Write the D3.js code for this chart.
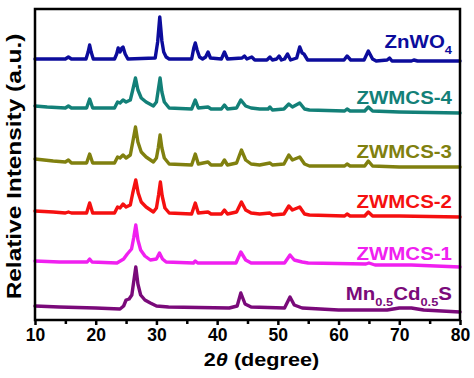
<!DOCTYPE html>
<html><head><meta charset="utf-8">
<script src="https://cdn.jsdelivr.net/npm/d3@7/dist/d3.min.js"></script>
<style>body{margin:0;background:#fff}svg{display:block}text{font-family:Arial,"Liberation Sans",sans-serif;font-weight:bold}</style>
</head><body>
<svg id="c" width="474" height="378"></svg>
<script>
// Data: [2theta, stacked intensity (a.u.)]
const ZnWO4 = [[10,261],[15,261],[15.5,263],[16,261],[18.4,261],[18.75,268],[19,275],[19.25,268],[19.6,261],[23.1,261],[23.45,266],[23.7,272],[24.0,268],[24.3,272],[24.5,273],[24.85,266],[25.3,261],[29.8,262],[30.2,278],[30.55,303],[30.9,279],[31.2,268],[31.6,263],[32.1,261],[35.8,261],[36.15,272],[36.4,277],[36.7,270],[37.1,263],[37.6,261],[38.1,263],[38.5,268],[38.9,262],[40.7,261],[41.2,268],[41.7,261],[44.1,262],[44.5,264],[44.9,261],[45.7,263],[46.2,260],[48.2,260],[48.7,263],[49.1,260],[49.8,261],[50.2,264],[50.6,260],[51.1,261],[51.6,266],[52.1,260],[53.1,262],[53.6,273],[54.0,267],[54.3,266],[54.9,260],[60.9,260],[61.4,264],[62.0,260],[64.2,260],[64.9,269],[65.6,261],[66.2,259],[68,260],[68.4,262],[68.8,259],[72,259],[72.4,260],[73,259],[80,259]];
const ZWMCS4 = [[10,214],[12,213],[15,212],[15.5,214],[16,212],[18.5,212],[19,221],[19.5,212],[23.1,212],[23.6,218],[24.0,217],[24.5,220],[25,218],[25.7,220],[26.1,230],[26.55,242],[26.95,230],[27.5,222],[28.3,218],[29.5,214],[30.0,218],[30.3,230],[30.6,242],[30.9,228],[31.3,218],[32.1,212],[35.8,211],[36.4,220],[36.9,212],[38.5,213],[39,211],[40.7,211],[41.2,215],[41.7,211],[43.2,212],[43.9,220],[44.7,214],[45.6,212],[47,211],[48.4,211],[48.7,213],[49.1,210],[51,211],[51.8,216],[52.4,213],[53.6,217],[54.4,211],[55.2,210],[61,209],[61.4,211],[61.9,209],[64.3,209],[64.9,213],[65.6,209],[70,208],[80,207]];
const ZWMCS3 = [[10,161],[13,159],[15,158],[15.5,160],[16,157],[18.5,157],[19,166],[19.5,157],[23.1,157],[23.6,163],[24.0,162],[24.5,165],[25,162],[25.7,165],[26.1,178],[26.55,193],[26.95,178],[27.5,168],[28.3,163],[29.5,158],[30.0,162],[30.3,172],[30.6,185],[30.9,172],[31.3,162],[32.1,156],[35.8,155],[36.4,166],[36.9,156],[38.5,158],[39,155],[40.7,155],[41.2,160],[41.7,155],[43.2,157],[44,170],[44.7,160],[45.6,156],[47,155],[48.7,157],[49.1,155],[51,156],[51.8,165],[52.4,160],[53.6,163],[54.4,156],[55.2,154],[61,154],[61.4,156],[61.9,154],[64.3,154],[64.9,159],[65.6,154],[70,153],[80,153]];
const ZWMCS2 = [[10,109],[13,108],[15,107],[15.5,108],[16,107],[18.5,107],[19,117],[19.5,107],[23.1,107],[23.6,113],[24.0,112],[24.5,116],[25,113],[25.7,115],[26.1,127],[26.6,140],[27.0,127],[27.5,118],[28.3,113],[29.5,108],[30.0,112],[30.35,125],[30.65,138],[30.95,124],[31.4,112],[32.1,107],[35.8,106],[36.4,117],[36.9,107],[38.5,108],[39,106],[40.7,106],[41.2,110],[41.7,106],[43.2,108],[44,118],[44.7,110],[45.6,107],[47,106],[48.7,107],[49.1,105],[51,106],[51.8,114],[52.4,110],[53.6,113],[54.4,106],[55.2,105],[61,104],[61.4,106],[61.9,104],[64.3,104],[64.9,108],[65.6,104],[70,104],[80,103]];
const ZWMCS1 = [[10,59],[14,58],[18.6,58],[19,61],[19.4,58],[23.5,57],[24.6,61],[25.2,66],[25.9,71],[26.25,82],[26.6,95],[26.95,80],[27.4,70],[28.1,64],[29,60],[30.0,61],[30.5,67],[31.0,61],[31.6,58],[36.1,57],[36.4,59],[36.8,57],[43.1,57],[43.9,68],[44.7,60],[45.6,57],[51.1,57],[52,65],[52.7,60],[54,58],[55,57],[64.5,56],[65,57],[66,55],[70,55],[72,55],[80,53]];
const MnCdS = [[10,14],[14,13],[20,12],[24,11],[24.6,14],[25,20],[25.5,21],[25.95,25],[26.25,38],[26.6,53],[26.95,36],[27.4,25],[28.1,20],[29,17],[30,14],[32,13],[42,12],[43.3,14],[43.9,27],[44.6,16],[45.6,13],[51.1,12],[52,23],[52.7,15],[54,12],[60,10],[68,10],[70,12],[72,12],[74,10],[80,8]];

const seriesData = [ZnWO4, ZWMCS4, ZWMCS3, ZWMCS2, ZWMCS1, MnCdS];
const seriesColors = ["#0c0c9c", "#138078", "#80800f", "#f51010", "#f020f0", "#7a0a7a"];
const seriesLabels = [
  [["ZnWO",0],["4",1]],
  [["ZWMCS-4",0]],
  [["ZWMCS-3",0]],
  [["ZWMCS-2",0]],
  [["ZWMCS-1",0]],
  [["Mn",0],["0.5",1],["Cd",0],["0.5",1],["S",0]]
];
const labelLevels = [272, 216, 162, 112, 60, 20];
const xTicks = [10,20,30,40,50,60,70,80];
const xMinor = [15,25,35,45,55,65,75];

const svg = d3.select("#c");
const L=35, R=460, T=9, B=320;
const x = d3.scaleLinear().domain([10,80]).range([L,R]);
const y = d3.scaleLinear().domain([0,311]).range([B,T]);

const line = d3.line().x(d=>x(d[0])).y(d=>y(d[1]));
seriesData.forEach((s,i)=>{
  svg.append("path").attr("d",line(s)).attr("fill","none")
    .attr("stroke",seriesColors[i]).attr("stroke-width",3.4)
    .attr("stroke-linejoin","round").attr("stroke-linecap","round");
});

// labels
seriesLabels.forEach((parts,i)=>{
  const t = svg.append("text")
    .attr("transform",`translate(452,${y(labelLevels[i])}) scale(1.17,1)`)
    .attr("text-anchor","end").attr("font-size",17.5).attr("fill",seriesColors[i]);
  let sub=false;
  parts.forEach(p=>{
    const ts = t.append("tspan").text(p[0]);
    if(p[1]){ ts.attr("font-size",11); if(!sub){ts.attr("dy",6); sub=true;} }
    else if(sub){ ts.attr("dy",-6); sub=false; }
  });
});

// frame
svg.append("rect").attr("x",L).attr("y",T).attr("width",R-L).attr("height",B-T)
  .attr("fill","none").attr("stroke","#000").attr("stroke-width",2.5);

// x axis
const ax = svg.append("g").attr("transform",`translate(0,${B})`)
  .call(d3.axisBottom(x).tickValues(xTicks).tickSize(5).tickPadding(4).tickFormat(d3.format("d")));
ax.select(".domain").remove();
ax.selectAll(".tick line").attr("stroke","#000").attr("stroke-width",2.5);
ax.selectAll(".tick text").attr("font-size",17.5).attr("fill","#000")
  .style("font-family","Arial, 'Liberation Sans', sans-serif").style("font-weight","bold");
const axm = svg.append("g").attr("transform",`translate(0,${B})`)
  .call(d3.axisBottom(x).tickValues(xMinor).tickSize(4).tickFormat(""));
axm.select(".domain").remove();
axm.selectAll(".tick line").attr("stroke","#000").attr("stroke-width",2.5);

// axis titles
const xt = svg.append("text").attr("transform",`translate(${(L+R)/2+14},366) scale(1.17,1)`)
  .attr("text-anchor","middle").attr("font-size",18.5).attr("fill","#000");
xt.append("tspan").text("2");
xt.append("tspan").text("θ").attr("font-style","italic");
xt.append("tspan").text(" (degree)");

svg.append("text").attr("transform",`translate(21,${(T+B)/2+2}) rotate(-90) scale(1.22,1)`)
  .attr("text-anchor","middle").attr("font-size",20).attr("fill","#000")
  .text("Relative Intensity (a.u.)");
</script>
</body></html>
